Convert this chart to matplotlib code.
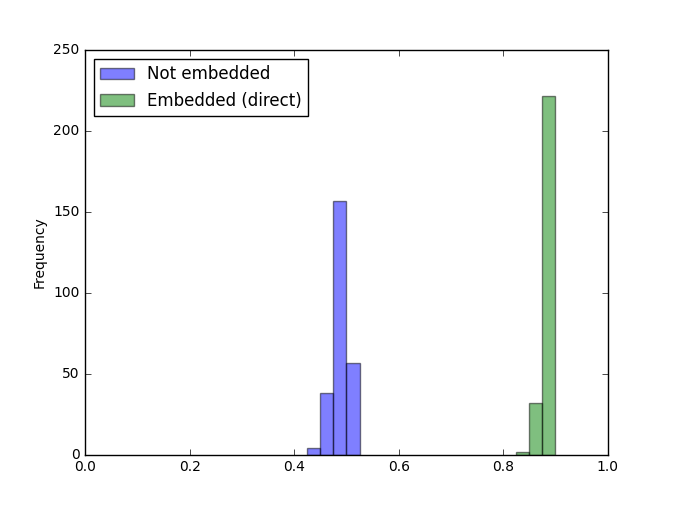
import matplotlib
matplotlib.use("Agg")
import matplotlib.pyplot as plt

plt.style.use('classic')

not_edges = [0.425, 0.45, 0.475, 0.5, 0.525]
not_counts = [4, 38, 157, 57]
emb_edges = [0.825, 0.85, 0.875, 0.9]
emb_counts = [2, 32, 222]

fig = plt.figure(figsize=(6.76, 5.07), dpi=100)
ax = fig.add_axes([0.126, 0.103, 0.773, 0.798])
ax.hist(not_edges[:-1], bins=not_edges, weights=not_counts, color='b', alpha=0.5, label='Not embedded')
ax.hist(emb_edges[:-1], bins=emb_edges, weights=emb_counts, color='g', alpha=0.5, label='Embedded (direct)')
ax.set_xlim(0, 1)
ax.set_ylim(0, 250)
ax.set_ylabel('Frequency', fontsize=10)
ax.tick_params(labelsize=10)
ax.legend(loc='upper left', fontsize=12)
fig.savefig('out.png', dpi=100)
